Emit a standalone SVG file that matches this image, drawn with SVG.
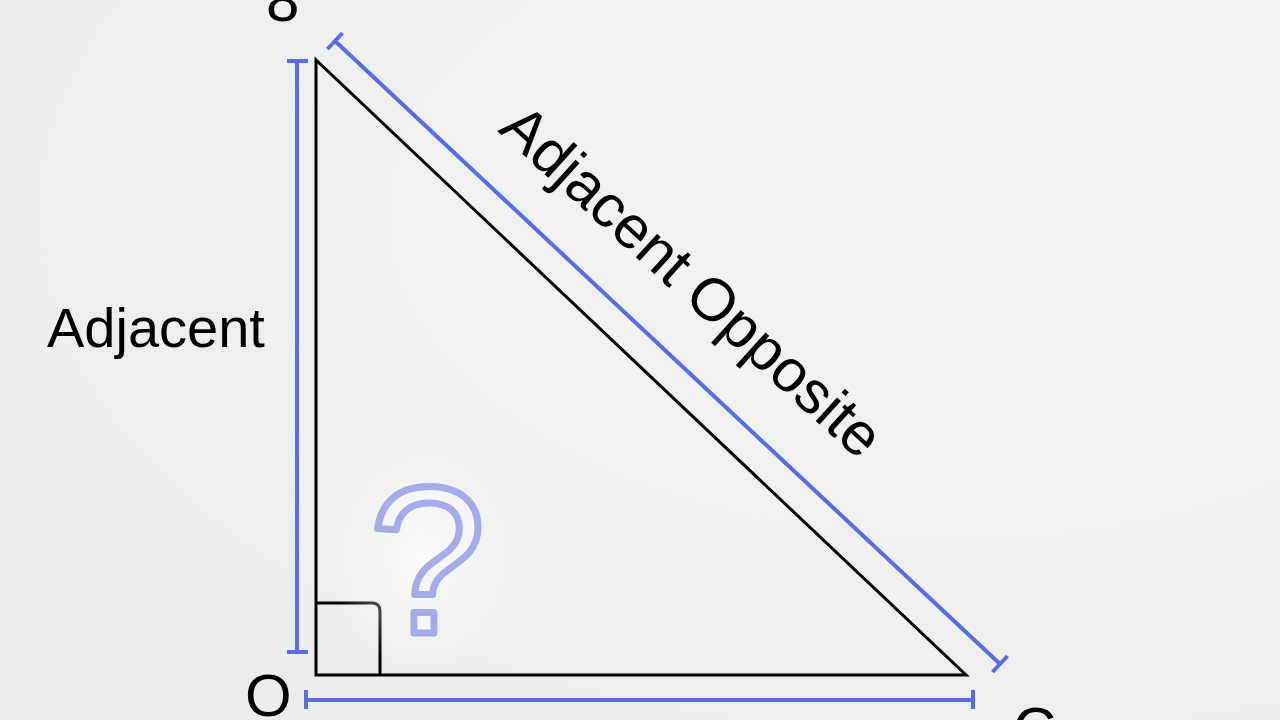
<svg xmlns="http://www.w3.org/2000/svg" width="1280" height="720" viewBox="0 0 1280 720">
<defs>
<style>
.lbl{font-family:"Liberation Sans",Arial,sans-serif;fill:#000;}
.blue{stroke:#5a6be6;stroke-width:4;fill:none;stroke-linecap:butt;}
.edge{stroke:#000;stroke-width:3;fill:none;}
</style>
<radialGradient id="bg" cx="0.75" cy="0.3" r="0.9">
<stop offset="0" stop-color="#f3f3f3"/>
<stop offset="1" stop-color="#ececec"/>
</radialGradient>
<radialGradient id="glow" cx="0.5" cy="0.5" r="0.5">
<stop offset="0" stop-color="#ffffff" stop-opacity="0.8"/>
<stop offset="1" stop-color="#ffffff" stop-opacity="0"/>
</radialGradient>
</defs>
<rect width="1280" height="720" fill="url(#bg)"/>
<g id="connectors">
<path class="edge" d="M316,60 L316,675 L966,675 Z" stroke-linejoin="miter"/>
<path class="edge" d="M316,603 H372 Q380,603 380,611 V675"/>
<path class="blue" d="M297,61 V652 M287,61 H308 M287,652 H308"/>
<path class="blue" d="M306,700 H973 M306,690 V709 M973,690 V709"/>
<path class="blue" d="M335,41 L1000,664 M327.5,49 L342.5,33 M992.5,672 L1007.5,656"/>
</g>
<g id="label-adjacent"><text class="lbl" x="47" y="347" font-size="56">Adjacent</text></g>
<g id="label-hyp"><text class="lbl" font-size="60" transform="translate(497,131) rotate(42.3)">Adjacent Opposite</text></g>
<g id="vertex-top"><text class="lbl" x="266" y="21" font-size="60">8</text></g>
<g id="vertex-o"><text class="lbl" x="245" y="716" font-size="60">O</text></g>
<g id="vertex-c"><text class="lbl" x="1013" y="749" font-size="60">C</text></g>
<g id="question">
<ellipse cx="423" cy="560" rx="90" ry="110" fill="url(#glow)"/>
<text x="369" y="633" font-family="'Liberation Sans',Arial,sans-serif" font-size="210" fill="#f6f6fa" stroke="#a6abea" stroke-width="7" stroke-linejoin="round">?</text>
</g>
</svg>
